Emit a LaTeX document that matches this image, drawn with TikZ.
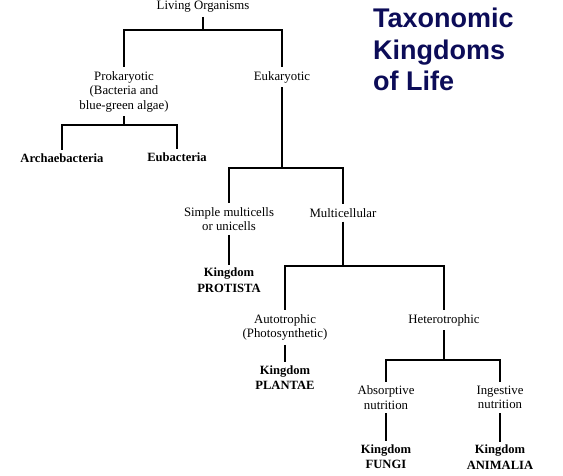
\documentclass[tikz,border=0pt]{standalone}
\usepackage{fontspec}
\setmainfont{Liberation Serif}
\newfontfamily\titlefont{Liberation Sans}
\definecolor{titleblue}{RGB}{12,12,88}
\begin{document}
\begin{tikzpicture}[x=1pt,y=-1pt]
  \useasboundingbox (0,0) rectangle (563,476);
  \tikzstyle{coordinate}=[inner sep=0pt,outer sep=0pt]
  \tikzstyle{branch}=[color=black, line width=2.4pt]
  \tikzstyle{taxon}=[align=center, inner sep=4pt, font=\fontsize{12.8}{14.5}\selectfont]
  \tikzstyle{kingdom}=[align=center, inner sep=3pt, font=\fontsize{12.6}{15.5}\selectfont\bfseries]
  \node[taxon] (Liv) at (203,7)     {Living Organisms};
  \node[taxon] (Pro) at (124,91.5)  {Prokaryotic\\(Bacteria and\\blue-green algae)};
  \node[taxon] (Euk) at (282,77)    {Eukaryotic};
  \node[kingdom] (Arc) at (62,158)  {Archaebacteria};
  \node[kingdom] (Eub) at (177,157) {Eubacteria};
  \node[taxon] (Sim) at (229,219)   {Simple multicells\\or unicells};
  \node[taxon] (Mul) at (343,213)   {Multicellular};
  \node[kingdom] (Pst) at (229,280) {Kingdom\\PROTISTA};
  \node[taxon] (Aut) at (285,327.5) {Autotrophic\\(Photosynthetic)};
  \node[taxon] (Het) at (444,320)   {Heterotrophic};
  \node[kingdom] (Pla) at (285,377.5) {Kingdom\\PLANTAE};
  \node[taxon] (Abs) at (386,397.5) {Absorptive\\nutrition};
  \node[taxon] (Ing) at (500,397.5) {Ingestive\\nutrition};
  \node[kingdom] (Fun) at (386,456.5) {Kingdom\\FUNGI};
  \node[kingdom] (Ani) at (500,457)   {Kingdom\\ANIMALIA};
  \coordinate (J1) at (203,30);
  \coordinate (J2) at (124,125);
  \coordinate (J3) at (282,168);
  \coordinate (J4) at (343,266);
  \coordinate (J5) at (444,360);
  \draw [branch] (Liv) -- (J1);
  \draw [branch] (J1) -| (Pro);
  \draw [branch] (J1) -| (Euk);
  \draw [branch] (Pro) -- (J2);
  \draw [branch] (J2) -| (Arc);
  \draw [branch] (J2) -| (Eub);
  \draw [branch] (Euk) -- (J3);
  \draw [branch] (J3) -| (Sim);
  \draw [branch] (J3) -| (Mul);
  \draw [branch] (Sim) -- (Pst);
  \draw [branch] (Mul) -- (J4);
  \draw [branch] (J4) -| (Aut);
  \draw [branch] (J4) -| (Het);
  \draw [branch] (Aut) -- (Pla);
  \draw [branch] (Het) -- (J5);
  \draw [branch] (J5) -| (Abs);
  \draw [branch] (J5) -| (Ing);
  \draw [branch] (Abs) -- (Fun);
  \draw [branch] (Ing) -- (Ani);
  \node[anchor=north west, align=left, inner sep=0pt, text=titleblue,
        font=\titlefont\bfseries\fontsize{27}{31.5}\selectfont] (Title) at (373,8)
        {Taxonomic\\Kingdoms\\of Life};
\end{tikzpicture}
\end{document}
